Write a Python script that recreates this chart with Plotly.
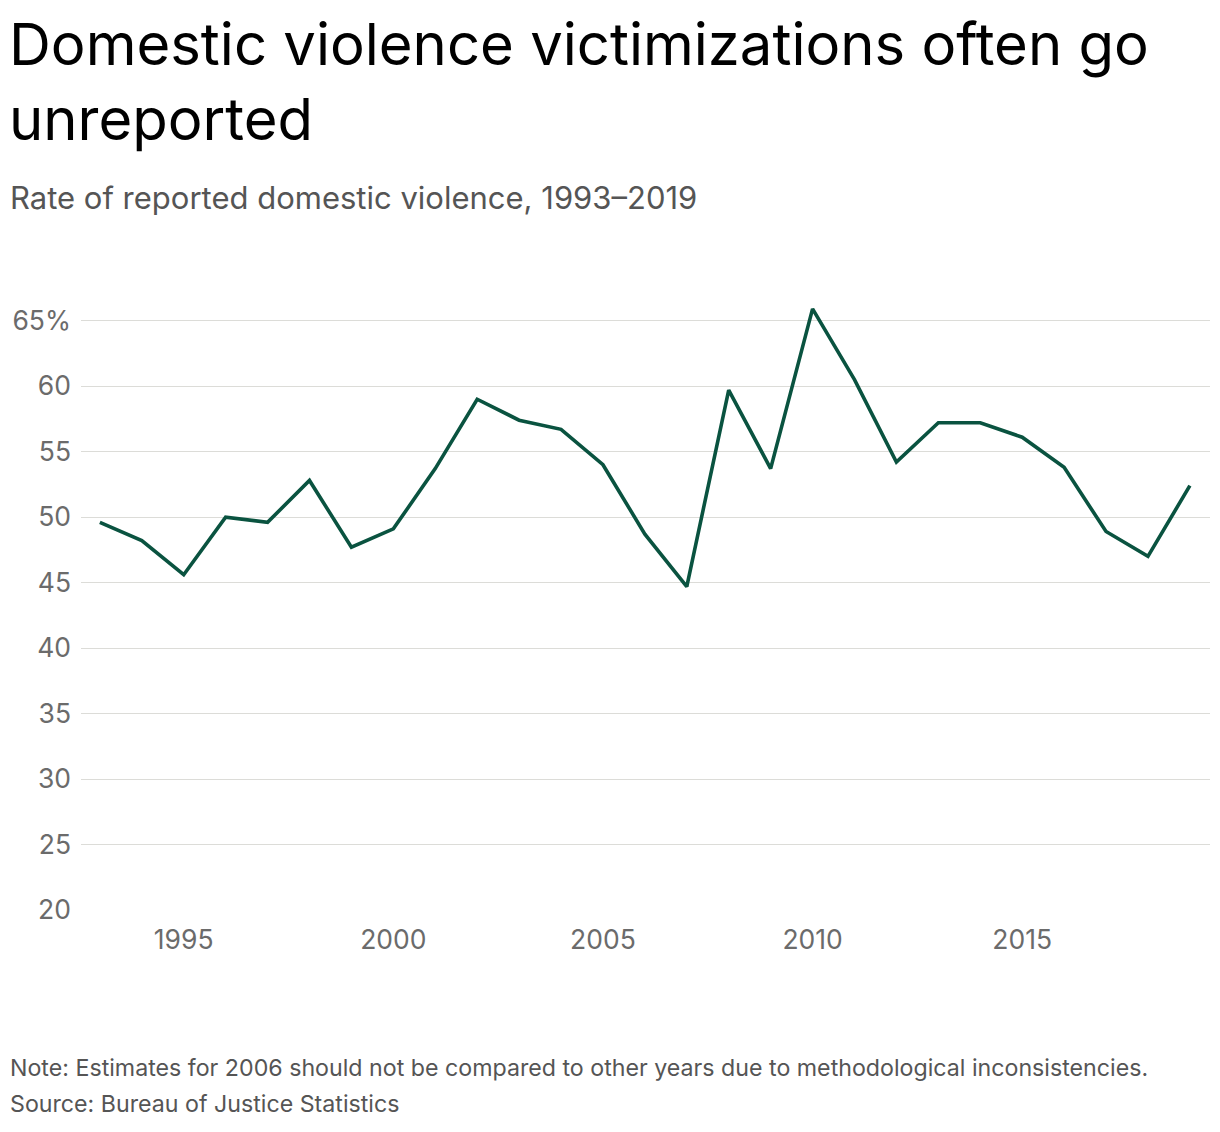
import plotly.graph_objects as go

years = list(range(1993, 2020))
rates = [49.6, 48.2, 45.6, 50.0, 49.6, 52.8, 47.7, 49.1, 53.7, 59.0,
         57.4, 56.7, 54.0, 48.7, 44.7, 59.7, 53.7, 65.9, 60.5, 54.2,
         57.2, 57.2, 56.1, 53.8, 48.9, 47.0, 52.4]

y_tickvals = [20, 25, 30, 35, 40, 45, 50, 55, 60, 65]
y_ticktext = ["20", "25", "30", "35", "40", "45", "50", "55", "60", "65%"]
x_tickvals = [1995, 2000, 2005, 2010, 2015]

title_text = "Domestic violence victimizations often go<br>unreported"
subtitle_text = "Rate of reported domestic violence, 1993–2019"
note_text = "Note: Estimates for 2006 should not be compared to other years due to methodological inconsistencies."
source_text = "Source: Bureau of Justice Statistics"

FONT = "Inter, Roboto, sans-serif"

fig = go.Figure()
fig.add_trace(go.Scatter(
    x=years, y=rates, mode="lines",
    line=dict(color="#0a5340", width=3.6),
    hoverinfo="x+y", showlegend=False,
))

W, H = 1220, 1132
OFF = 8  # page margin offset
L, R, T, B = 81 - OFF, 18, 301 - OFF, 1132 - 910 + OFF
pw = W - L - R
ph = H - T - B

def px_x(x):
    return (x - OFF - L) / pw

def px_y(y):
    return (H - B - (y - OFF)) / ph

fig.update_layout(
    width=W, height=H,
    margin=dict(l=L, r=R, t=T, b=B, autoexpand=False),
    paper_bgcolor="white", plot_bgcolor="white",
    font=dict(family=FONT),
    xaxis=dict(
        range=[1992.55, 2019.48],
        tickvals=x_tickvals, automargin=False,
        showgrid=False, zeroline=False, showline=False,
        ticks="", ticklabelstandoff=11,
        tickfont=dict(family=FONT, size=26.5, color="#6b6b6b"),
    ),
    yaxis=dict(
        range=[20, 66.5],
        tickvals=y_tickvals, ticktext=y_ticktext, automargin=False,
        showgrid=True, gridcolor="#dcdcd8", gridwidth=1.2,
        zeroline=False, showline=False,
        ticks="", ticklabelstandoff=9,
        tickfont=dict(family=FONT, size=26.5, color="#6b6b6b"),
    ),
    annotations=[
        dict(text=title_text, xref="paper", yref="paper",
             x=px_x(7), y=px_y(7), xanchor="left", yanchor="top",
             align="left", showarrow=False,
             font=dict(family=FONT, size=58, color="#000000")),
        dict(text=subtitle_text, xref="paper", yref="paper",
             x=px_x(8), y=px_y(197), xanchor="left", yanchor="middle",
             showarrow=False, font=dict(family=FONT, size=31, color="#555555")),
        dict(text=note_text, xref="paper", yref="paper",
             x=px_x(8), y=px_y(1068), xanchor="left", yanchor="middle",
             showarrow=False, font=dict(family=FONT, size=23.2, color="#555555")),
        dict(text=source_text, xref="paper", yref="paper",
             x=px_x(8), y=px_y(1104), xanchor="left", yanchor="middle",
             showarrow=False, font=dict(family=FONT, size=23.2, color="#555555")),
    ],
)

fig.write_html("out.html")
